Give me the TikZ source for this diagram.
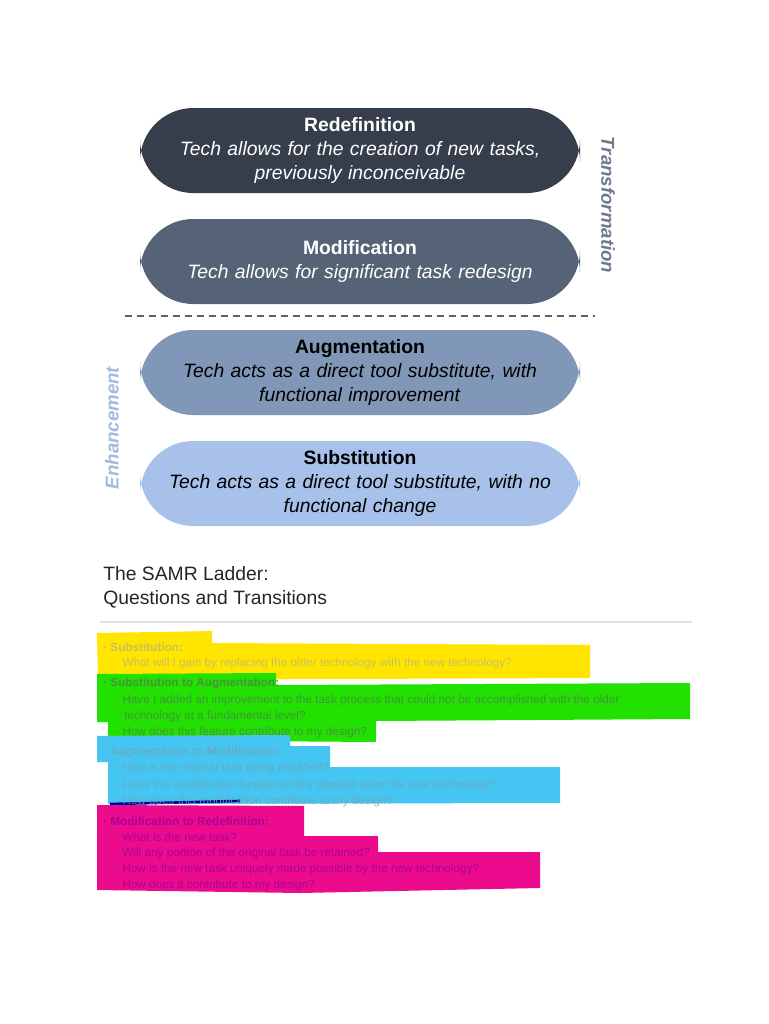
\documentclass[tikz,border=0pt]{standalone}
\usepackage{fontspec}
\setmainfont{Liberation Sans}
\begin{document}
\begin{tikzpicture}[x=0.75pt,y=-0.75pt,
  pill/.style={rounded corners=40pt,minimum width=330pt,minimum height=63.75pt,text width=320pt,align=center,inner sep=0pt,font=\fontsize{14.5}{18}\selectfont},
  side/.style={font=\bfseries\itshape\fontsize{14}{16}\selectfont},
  q/.style={anchor=west,inner sep=0pt,font=\fontsize{8.8}{10}\selectfont},
  qb/.style={q,font=\bfseries\fontsize{8.8}{10}\selectfont}]
\definecolor{c1}{HTML}{363D4B}\definecolor{c2}{HTML}{566377}
\definecolor{c3}{HTML}{8097B7}\definecolor{c4}{HTML}{A7C1EA}
\definecolor{hy}{HTML}{FFE500}\definecolor{hg}{HTML}{22E000}
\definecolor{hb}{HTML}{45C6F2}\definecolor{hm}{HTML}{EC0B8D}
\useasboundingbox[fill=white] (0,0) rectangle (768,1024);
\node[pill,fill=c1,text=white] (r) at (360,150.5) {\textbf{Redefinition}\\\textit{Tech allows for the creation of new tasks,\\previously inconceivable}};
\node[pill,fill=c2,text=white] (m) at (360,261.5) {\textbf{Modification}\\\textit{Tech allows for significant task redesign}};
\node[pill,fill=c3,text=black] (a) at (360,372.5) {\textbf{Augmentation}\\\textit{Tech acts as a direct tool substitute, with\\functional improvement}};
\node[pill,fill=c4,text=black] (s) at (360,483.5) {\textbf{Substitution}\\\textit{Tech acts as a direct tool substitute, with no\\functional change}};
\coordinate (d1) at (125,316); \coordinate (d2) at (595,316);
\draw[c2,dashed,line width=1.3pt,dash pattern=on 5pt off 4pt] (d1) -- (d2);
\node[side,text=c2!85,rotate=-90] (tr) at (608,205) {Transformation};
\node[side,text=c4!90!gray,rotate=90] (en) at (112,428) {Enhancement};
\node[anchor=west,inner sep=0pt,font=\fontsize{14.5}{18}\selectfont,align=left,text=black!85] (t) at (103,587) {The SAMR Ladder:\\Questions and Transitions};
\coordinate (l1) at (100,622); \coordinate (l2) at (692,622);
\draw[black!12,line width=1pt] (l1) -- (l2);
% highlights
\fill[hy] (97,633) -- (212,631) -- (212,643) -- (590,645) -- (590,678) -- (98,680) -- cycle;
\fill[hg] (97,674) -- (276,673) -- (276,685) -- (690,683) -- (690,719) -- (376,721) -- (376,742) -- (108,740) -- (108,722) -- (97,722) -- cycle;
\fill[hb] (97,736) -- (290,735) -- (290,746) -- (330,746) -- (330,767) -- (560,767) -- (560,803) -- (108,804) -- (108,762) -- (97,762) -- cycle;
\draw[blue!60!black,line width=2pt] (110,804) -- (240,801);
\fill[hm] (97,805) -- (304,806) -- (304,836) -- (378,836) -- (378,852) -- (540,852) -- (540,888) -- (300,893) -- (97,890) -- (97,858) -- (97,840) -- cycle;
\begin{scope}[text opacity=0.8]
\node[qb,text=yellow!40!gray] (q1) at (103,647) {· Substitution:};
\node[q,text=yellow!40!gray] (q2) at (115,663) {· What will I gain by replacing the older technology with the new technology?};
\node[qb,text=green!30!black!70] (q3) at (103,683) {· Substitution to Augmentation:};
\node[q,text=green!30!black!70] (q4) at (115,700) {· Have I added an improvement to the task process that could not be accomplished with the older};
\node[q,text=green!30!black!70] (q5) at (124,716) {technology at a fundamental level?};
\node[q,text=green!30!black!70] (q6) at (115,732) {· How does this feature contribute to my design?};
\node[qb,text=cyan!40!gray] (q7) at (103,752) {· Augmentation to Modification:};
\node[q,text=cyan!40!gray] (q8) at (115,768) {· How is the original task being modified?};
\node[q,text=cyan!40!gray] (q9) at (115,785) {· Does this modification fundamentally depend upon the new technology?};
\node[q,text=cyan!40!gray] (q10) at (115,801) {· How does this modification contribute to my design?};
\node[qb,text=violet!80!magenta] (q11) at (103,821) {· Modification to Redefinition:};
\node[q,text=violet!80!magenta] (q12) at (115,837) {· What is the new task?};
\node[q,text=violet!80!magenta] (q13) at (115,853) {· Will any portion of the original task be retained?};
\node[q,text=violet!80!magenta] (q14) at (115,869) {· How is the new task uniquely made possible by the new technology?};
\node[q,text=violet!80!magenta] (q15) at (115,885) {· How does it contribute to my design?};
\end{scope}
\end{tikzpicture}
\end{document}
